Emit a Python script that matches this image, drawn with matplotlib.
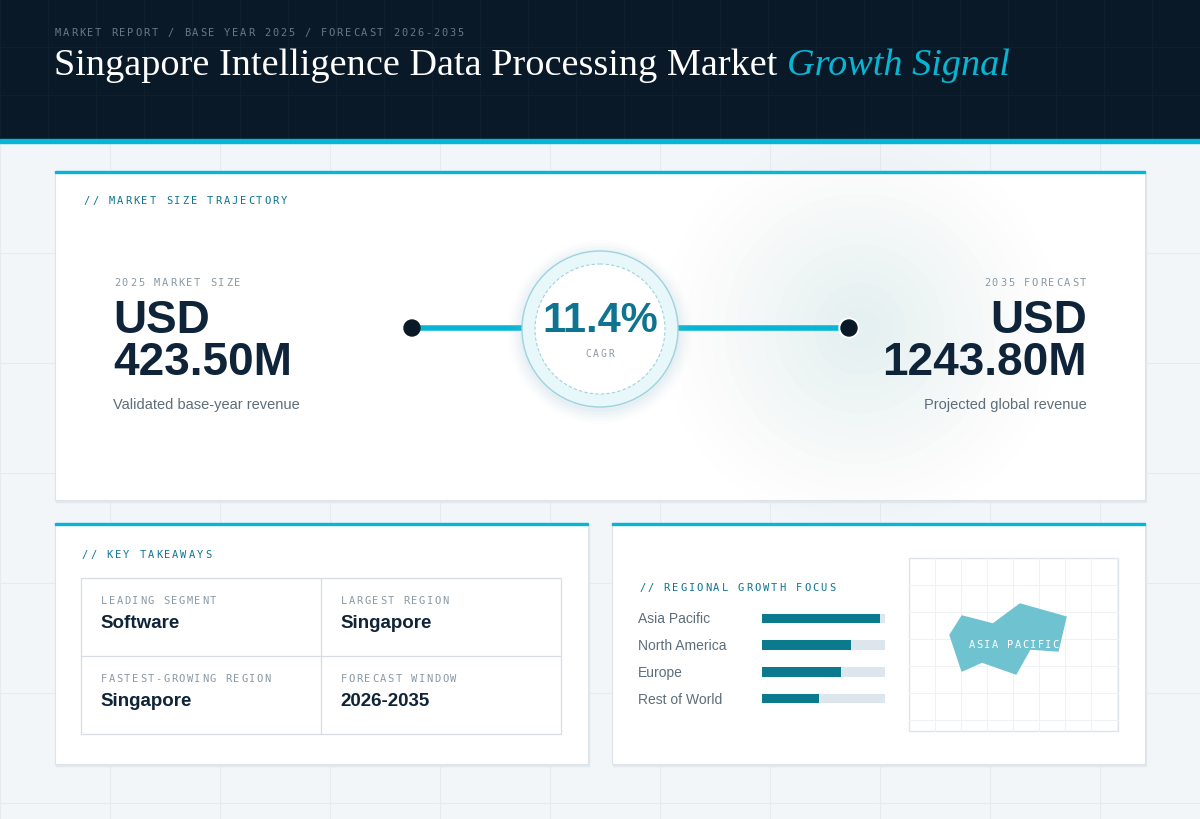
import matplotlib
matplotlib.use("Agg")
import matplotlib.pyplot as plt
from matplotlib.patches import Rectangle, Circle, Polygon
import numpy as np

regions = ["Asia Pacific", "North America", "Europe", "Rest of World"]
region_scores = [96, 72, 64, 46]
base_value = "USD\n423.50M"
forecast_value = "USD\n1243.80M"
cagr = "11.4%"
takeaways = [("LEADING SEGMENT", "Software"), ("LARGEST REGION", "Singapore"),
             ("FASTEST-GROWING REGION", "Singapore"), ("FORECAST WINDOW", "2026-2035")]

W, H = 1200, 820
fig = plt.figure(figsize=(12, 8.2), dpi=100)
ax = fig.add_axes([0, 0, 1, 1])
ax.set_xlim(0, W); ax.set_ylim(H, 0); ax.axis("off")

NAVY = "#0a1927"; CYAN = "#06b6d4"; TEAL = "#0e7490"; DARK = "#0f2438"; GREY = "#8a99a6"
MONO = "DejaVu Sans Mono"; SANS = "Liberation Sans"

def spaced(x, y, s, pitch=8.0, ha="left", **kw):
    n = len(s)
    if ha == "right":
        x = x - n * pitch
    elif ha == "center":
        x = x - n * pitch / 2
    for i, ch in enumerate(s):
        if ch != " ":
            ax.text(x + i * pitch + pitch / 2, y, ch, family=MONO, ha="center", va="center", **kw)

ax.add_patch(Rectangle((0, 0), W, H, color="#f3f6f8", zorder=0))
for x in range(0, W, 110):
    ax.plot([x, x], [144, H], color="#e6ebef", lw=0.8, zorder=0)
for y in range(144, H, 110):
    ax.plot([0, W], [y, y], color="#e6ebef", lw=0.8, zorder=0)
ax.add_patch(Rectangle((0, 0), W, 140, color=NAVY, zorder=1))
for x in range(0, W, 48):
    ax.plot([x, x], [0, 140], color="#0f2230", lw=0.6, zorder=1)
for y in range(0, 140, 48):
    ax.plot([0, W], [y, y], color="#0f2230", lw=0.6, zorder=1)
ax.add_patch(Rectangle((0, 140), W, 4, color=CYAN, zorder=2))
spaced(54, 33, "MARKET REPORT / BASE YEAR 2025 / FORECAST 2026-2035", pitch=8.05,
       fontsize=7.5, color="#6b7884", zorder=3)
t = ax.text(54, 66, "Singapore Intelligence Data Processing Market ", family="Liberation Serif",
            fontsize=27.5, color="white", va="center", zorder=3)
ax.annotate("Growth Signal", xy=(1, 0.5), xycoords=t, va="center", family="Liberation Serif",
            style="italic", fontsize=27.5, color=CYAN, zorder=3)

def card(x, y, w, h):
    ax.add_patch(Rectangle((x + 1, y + 2), w, h, color="#e3e8ec", zorder=2))
    ax.add_patch(Rectangle((x, y), w, h, facecolor="white", edgecolor="#dde3e8", lw=0.8, zorder=3))
    ax.add_patch(Rectangle((x, y), w, 2, color=CYAN, zorder=4))

card(55, 172, 1090, 329)
card(55, 524, 533, 241)
card(612, 524, 533, 241)

for r, a in zip(np.linspace(200, 20, 15), np.linspace(0.008, 0.03, 15)):
    ax.add_patch(Circle((860, 330), r, color="#a8e6f2", alpha=a, lw=0, zorder=4))

spaced(83, 201, "// MARKET SIZE TRAJECTORY", pitch=8.2, fontsize=7.5, color=TEAL, zorder=6)
spaced(113, 283, "2025 MARKET SIZE", pitch=8.0, fontsize=7.5, color=GREY, zorder=6)
ax.text(113, 342, base_value, fontsize=33, weight="bold", color=DARK, va="center",
        linespacing=0.95, family=SANS, zorder=6)
ax.text(113, 405, "Validated base-year revenue", fontsize=10.5, color="#5d6d7a", va="center",
        family=SANS, zorder=6)
spaced(1087, 283, "2035 FORECAST", pitch=8.0, ha="right", fontsize=7.5, color=GREY, zorder=6)
ax.text(1087, 342, forecast_value, fontsize=33, weight="bold", color=DARK, va="center", ha="right",
        linespacing=0.95, family=SANS, multialignment="right", zorder=6)
ax.text(1087, 405, "Projected global revenue", fontsize=10.5, color="#5d6d7a", va="center", ha="right",
        family=SANS, zorder=6)

ax.plot([412, 849], [329, 329], color=CYAN, lw=4, zorder=6)
ax.add_patch(Circle((412, 329), 8, color=NAVY, zorder=7))
ax.add_patch(Circle((849, 329), 10, color="white", zorder=7))
ax.add_patch(Circle((849, 329), 8, color=NAVY, zorder=8))
for r, a in zip(range(92, 78, -3), np.linspace(0.02, 0.06, 5)):
    ax.add_patch(Circle((600, 333), r, color="#7fb8c8", alpha=a, lw=0, zorder=7))
ax.add_patch(Circle((600, 330), 78, facecolor="#e8f7fa", edgecolor="#9fd3de", lw=1, zorder=8))
ax.add_patch(Circle((600, 330), 65, facecolor="white", edgecolor="#9fd3de", lw=0.8, ls=(0, (3, 2)), zorder=9))
ax.text(600, 321, cagr, fontsize=30, weight="bold", color=TEAL, ha="center", va="center",
        family=SANS, zorder=10)
spaced(600, 354, "CAGR", pitch=7.5, ha="center", fontsize=7, color=GREY, zorder=10)

spaced(81, 555, "// KEY TAKEAWAYS", pitch=8.2, fontsize=7.5, color=TEAL, zorder=6)
ax.add_patch(Rectangle((81, 579), 480, 156, facecolor="none", edgecolor="#d7dde2", lw=0.9, zorder=6))
ax.plot([321, 321], [579, 735], color="#d7dde2", lw=0.9, zorder=6)
ax.plot([81, 561], [657, 657], color="#d7dde2", lw=0.9, zorder=6)
for i, (lab, val) in enumerate(takeaways):
    x = 100 + (i % 2) * 240
    y = 601 + (i // 2) * 78
    spaced(x, y, lab, pitch=7.8, fontsize=7.5, color=GREY, zorder=6)
    ax.text(x, y + 23, val, fontsize=13.5, weight="bold", color=DARK, va="center", family=SANS, zorder=6)

spaced(638, 588, "// REGIONAL GROWTH FOCUS", pitch=8.25, fontsize=7.5, color=TEAL, zorder=6)
ys = [619, 646, 673, 700]
for r, y in zip(regions, ys):
    ax.text(638, y, r, fontsize=10, color="#5d6d7a", va="center", family=SANS, zorder=6)
bax = fig.add_axes([762 / W, 1 - 713 / H, 123 / W, 107 / H])
bax.set_xlim(0, 100); bax.set_ylim(len(regions) - 0.5, -0.5); bax.axis("off")
pos = np.arange(len(regions))
bax.barh(pos, [100] * len(regions), height=0.35, color="#dde6ec")
bax.barh(pos, region_scores, height=0.35, color="#0b7a8e")

ax.add_patch(Rectangle((909, 559), 209, 173, facecolor="white", edgecolor="#dde3e8", lw=1, zorder=6))
for x in range(935, 1118, 26):
    ax.plot([x, x], [559, 732], color="#eef2f4", lw=0.7, zorder=6)
for y in range(586, 732, 27):
    ax.plot([909, 1118], [y, y], color="#eef2f4", lw=0.7, zorder=6)
shape = [(962, 617), (993, 625), (1020, 605), (1066, 618), (1058, 652), (1030, 650),
         (1016, 675), (982, 663), (962, 672), (950, 636)]
ax.add_patch(Polygon(shape, closed=True, color="#6fc3d0", zorder=7))
spaced(1014, 645, "ASIA PACIFIC", pitch=7.6, ha="center", fontsize=7.5, color="white", zorder=8)

fig.savefig("out.png", dpi=100)
